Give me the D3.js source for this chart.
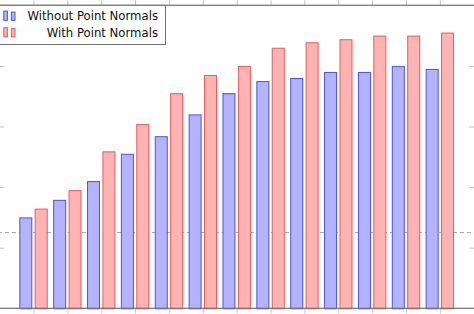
<!DOCTYPE html>
<html>
<head>
<meta charset="utf-8">
<script src="https://cdn.jsdelivr.net/npm/d3@7"></script>
<style>
  body { margin: 0; background: #fff; }
  svg { display: block; }
</style>
</head>
<body>
<div id="chart"></div>
<script>
// data (no tick labels visible, y in tick units)
const categories = [1, 2, 3, 4, 5, 6, 7, 8, 9, 10, 11, 12, 13];
const withoutNormals = [1.50, 1.79, 2.10, 2.55, 2.84, 3.20, 3.55, 3.75, 3.80, 3.90, 3.90, 4.00, 3.95];
const withNormals = [1.645, 1.95, 2.59, 3.04, 3.55, 3.85, 4.00, 4.30, 4.39, 4.44, 4.50, 4.50, 4.55];
const seriesNames = ["Without Point Normals", "With Point Normals"];
const yTicks = [1, 2, 3, 4];
const refLine = 1.25;

const width = 474, height = 314;

let svg = d3.select("#chart").append("svg")
    .attr("width", width)
    .attr("height", height);

// scales (plot is cropped, the frame sides sit just outside the window)
let x = d3.scaleLinear()
    .domain([1, 13])
    .range([33.5, 439.85]);
let xMin = -0.05, xMax = 14.05;

let y = d3.scaleLinear()
    .domain([0, 5])
    .range([308.3, 5.3]);

let barW = 13, offset = 7.7;

// dashed reference line
svg.append("line")
    .attr("x1", x(xMin)).attr("x2", x(xMax))
    .attr("y1", y(refLine)).attr("y2", y(refLine))
    .attr("stroke", "#a8a8a8")
    .attr("stroke-width", 1)
    .attr("stroke-dasharray", "4,3");

// y ticks, inward on both sides
svg.append("g")
    .attr("class", "axis y-left")
    .attr("transform", `translate(${x(xMin)},0)`)
    .call(d3.axisRight(y).tickValues(yTicks).tickSize(6).tickFormat(""));
svg.append("g")
    .attr("class", "axis y-right")
    .attr("transform", `translate(${x(xMax)},0)`)
    .call(d3.axisLeft(y).tickValues(yTicks).tickSize(6).tickFormat(""));

// x ticks outward, bottom and top
svg.append("g")
    .attr("class", "axis x-bottom")
    .attr("transform", `translate(0,${y(0)})`)
    .call(d3.axisBottom(x).tickValues(categories).tickSize(5).tickFormat(""));
svg.append("g")
    .attr("class", "axis x-top")
    .attr("transform", `translate(0,${y(5)})`)
    .call(d3.axisTop(x).tickValues(categories).tickSize(5).tickFormat(""));

svg.selectAll(".axis .domain").remove();
svg.selectAll(".axis .tick line").attr("stroke", "#c0c0c0");

// bars
svg.selectAll(".bar-without")
    .data(withoutNormals)
    .enter().append("rect")
    .attr("class", "bar-without")
    .attr("x", (d, i) => x(categories[i]) - offset - barW / 2 + 0.5)
    .attr("y", d => y(d) + 0.5)
    .attr("width", barW - 1)
    .attr("height", d => y(0) - y(d))
    .attr("fill", "#b3b3ff")
    .attr("stroke", "#5050e6")
    .attr("stroke-width", 1);

svg.selectAll(".bar-with")
    .data(withNormals)
    .enter().append("rect")
    .attr("class", "bar-with")
    .attr("x", (d, i) => x(categories[i]) + offset - barW / 2 + 0.5)
    .attr("y", d => y(d) + 0.5)
    .attr("width", barW - 1)
    .attr("height", d => y(0) - y(d))
    .attr("fill", "#ffb3b3")
    .attr("stroke", "#e65c5c")
    .attr("stroke-width", 1);

// frame
svg.append("rect")
    .attr("x", x(xMin))
    .attr("y", y(5))
    .attr("width", x(xMax) - x(xMin))
    .attr("height", y(0) - y(5))
    .attr("fill", "none")
    .attr("stroke", "#707070")
    .attr("stroke-width", 1.2);

// legend
let legend = svg.append("g").attr("class", "legend");
legend.append("rect")
    .attr("x", -2).attr("y", y(5))
    .attr("width", 167.5).attr("height", 39.2)
    .attr("fill", "white")
    .attr("stroke", "#707070")
    .attr("stroke-width", 1);

let legendColors = [["#b3b3ff", "#5050e6"], ["#ffb3b3", "#e65c5c"]];
seriesNames.forEach((name, i) => {
    let baseY = 20.3 + i * 16.6;
    legend.append("rect")
        .attr("x", 3.8).attr("y", baseY - 9.2)
        .attr("width", 3.6).attr("height", 9.2)
        .attr("fill", legendColors[i][0])
        .attr("stroke", legendColors[i][1]);
    legend.append("rect")
        .attr("x", 11.4).attr("y", baseY - 8.2)
        .attr("width", 3.6).attr("height", 8.2)
        .attr("fill", legendColors[i][0])
        .attr("stroke", legendColors[i][1]);
    legend.append("text")
        .attr("x", 158)
        .attr("y", baseY)
        .attr("text-anchor", "end")
        .attr("font-family", "DejaVu Sans")
        .attr("font-size", "11.7px")
        .attr("fill", "#111")
        .text(name);
});
</script>
</body>
</html>
